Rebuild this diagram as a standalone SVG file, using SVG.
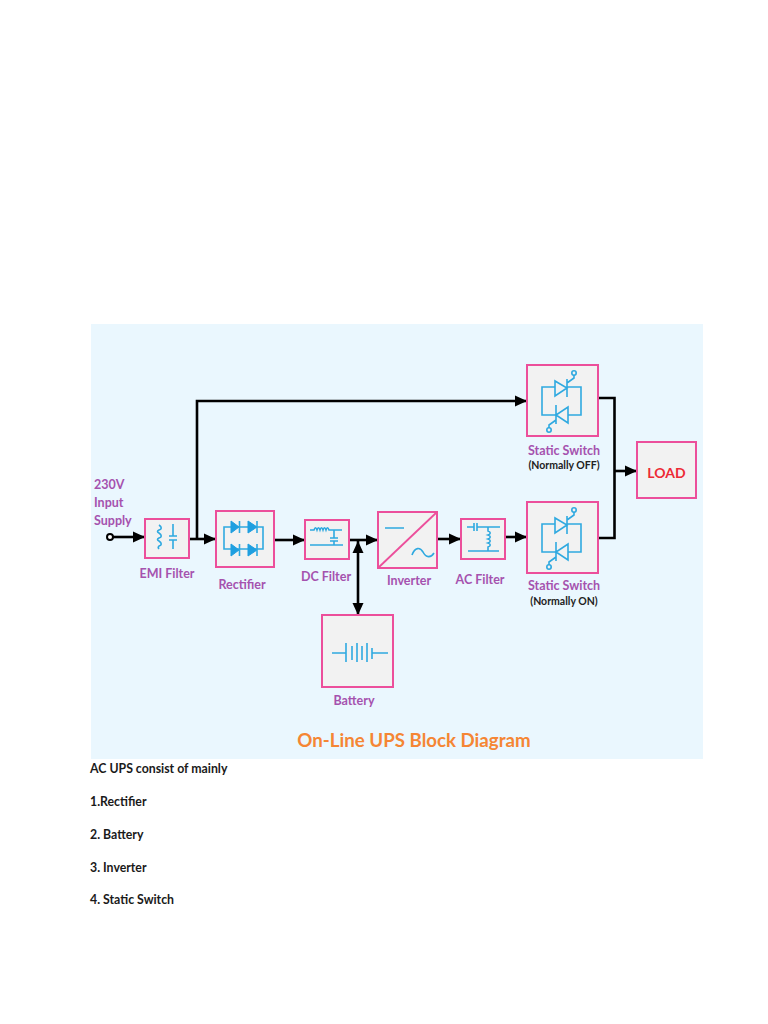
<svg xmlns="http://www.w3.org/2000/svg" width="768" height="1024" viewBox="0 0 768 1024">
<style>
text{font-family:Lato,"Open Sans",sans-serif}
.b{fill:#f2f2f2;stroke:#ec4f9b;stroke-width:2}
.s{fill:none;stroke:#2fa9e0;stroke-width:1.6}
.f{fill:#1f9fe0;stroke:#1f9fe0;stroke-width:1}
.l{font-size:12.5px;font-weight:700;fill:#a552ae;text-anchor:middle}
.n{font-size:10.5px;font-weight:700;fill:#222;text-anchor:middle}
.c{fill:none;stroke:#000;stroke-width:2.6}
.t{font-size:12.3px;font-weight:700;fill:#1a1a1a}
</style>
<defs>
<marker id="a" markerUnits="userSpaceOnUse" markerWidth="13" markerHeight="13" refX="12" refY="6.500" orient="auto-start-reverse"><path d="M0 1L12 6.500L0 12Z" fill="#000"/></marker>
<g id="thy">
<path class="s" d="M28 22H15V50H29M41 50H54V22H40"/>
<path class="s" d="M28 16V31L40 23ZM40 14V32M40 18L47 13V10"/>
<circle class="s" cx="47" cy="8" r="2.200"/>
<path class="s" d="M41 42V58L29 50ZM29 40V59M29 55L22 60V63"/>
<circle class="s" cx="22" cy="65" r="2.200"/>
</g>
</defs>
<rect x="91" y="324" width="612" height="435" fill="#eaf7fe"/>
<g id="connectors">
<circle cx="110" cy="537" r="3" fill="#fff" stroke="#000" stroke-width="2"/>
<path class="c" d="M113 537H145" marker-end="url(#a)"/>
<path class="c" d="M189 539H216" marker-end="url(#a)"/>
<path class="c" d="M197 539V401H527" marker-end="url(#a)"/>
<path class="c" d="M274 540H305" marker-end="url(#a)"/>
<path class="c" d="M349 540H378" marker-end="url(#a)"/>
<path class="c" d="M358 541V615" marker-start="url(#a)" marker-end="url(#a)"/>
<path class="c" d="M437 539H461" marker-end="url(#a)"/>
<path class="c" d="M504 537H527" marker-end="url(#a)"/>
<path class="c" d="M598 398H614.500V538H598"/>
<path class="c" d="M614.500 471H637" marker-end="url(#a)"/>
</g>
<g id="emi-filter">
<rect class="b" x="145" y="519" width="44" height="39"/>
<path class="s" d="M159 525c3 2 3 4 0 5c-2 1 -2 2 0 3c3 2 3 4 0 5c-2 1 -2 2 0 3c3 2 3 4 0 5c-1 1 -1 2 0 3M173 524V536M169 536H177M169 540H177M173 540V549"/>
<text class="l" x="167" y="578">EMI Filter</text>
</g>
<g id="rectifier">
<rect class="b" x="216" y="511" width="58" height="56"/>
<path class="s" d="M224 527H263V549H224Z"/>
<path class="f" d="M231 521V533L239 527ZM248 521V533L257 527ZM231 544V556L239 550ZM248 544V556L257 550Z"/>
<path class="s" d="M239.500 521V533M257 521V533M239.500 544V556M257 544V556"/>
<text class="l" x="242" y="589">Rectifier</text>
</g>
<g id="dc-filter">
<rect class="b" x="305" y="520" width="44" height="39"/>
<path class="s" d="M310 530H314c1 -3 2 -3 3 0c1 -3 2 -3 3 0c1 -3 2 -3 3 0c1 -3 2 -3 3 0c1 -3 2 -3 3 0H342M334 530V538M330 538H338M330 541H338M334 541V545M310 545H343"/>
<text class="l" x="326" y="581">DC Filter</text>
</g>
<g id="inverter">
<rect class="b" x="378" y="512" width="59" height="56"/>
<path d="M378 568L437 512" fill="none" stroke="#ec4f9b" stroke-width="1.800"/>
<path class="s" d="M385 528H404M412 555c3 -8 8 -8 11 -3c3 6 8 6 11 1"/>
<text class="l" x="409" y="585">Inverter</text>
</g>
<g id="ac-filter">
<rect class="b" x="461" y="519" width="44" height="40"/>
<path class="s" d="M467 527H474M474 523V531M477 523V531M477 527H500M488 527V531c3 1 3 3 0 4c3 1 3 3 0 4c3 1 3 3 0 4c3 1 3 3 0 4V551M468 551H499"/>
<text class="l" x="480" y="584">AC Filter</text>
</g>
<g id="static-switch-off">
<rect class="b" x="527" y="365" width="71" height="71"/>
<use href="#thy" x="527" y="365"/>
<text class="l" x="564" y="455">Static Switch</text>
<text class="n" x="564" y="469">(Normally OFF)</text>
</g>
<g id="static-switch-on">
<rect class="b" x="527" y="502" width="71" height="71"/>
<use href="#thy" x="527" y="502"/>
<text class="l" x="564" y="590">Static Switch</text>
<text class="n" x="564" y="605">(Normally ON)</text>
</g>
<g id="load">
<rect class="b" x="637" y="442" width="59" height="56"/>
<text x="666.500" y="478" font-size="14" font-weight="700" fill="#ed2a35" text-anchor="middle">LOAD</text>
</g>
<g id="battery">
<rect class="b" x="322" y="615" width="71" height="72"/>
<path class="s" d="M332 653H346M346 643V662M352 646V660M357 643V662M362 646V660M367 643V662M372 648V659M372 653H388"/>
<text class="l" x="354" y="705">Battery</text>
</g>
<g id="input-label" font-size="12.500" font-weight="700" fill="#a552ae">
<text x="94" y="489">230V</text>
<text x="94" y="507">Input</text>
<text x="94" y="525">Supply</text>
</g>
<text x="414" y="747" font-size="18.700" font-weight="700" fill="#f58634" text-anchor="middle">On-Line UPS Block Diagram</text>
<g id="body-text">
<text class="t" x="90" y="773">AC UPS consist of mainly</text>
<text class="t" x="90" y="806">1.Rectifier</text>
<text class="t" x="90" y="839">2. Battery</text>
<text class="t" x="90" y="872">3. Inverter</text>
<text class="t" x="90" y="904">4. Static Switch</text>
</g>
</svg>
